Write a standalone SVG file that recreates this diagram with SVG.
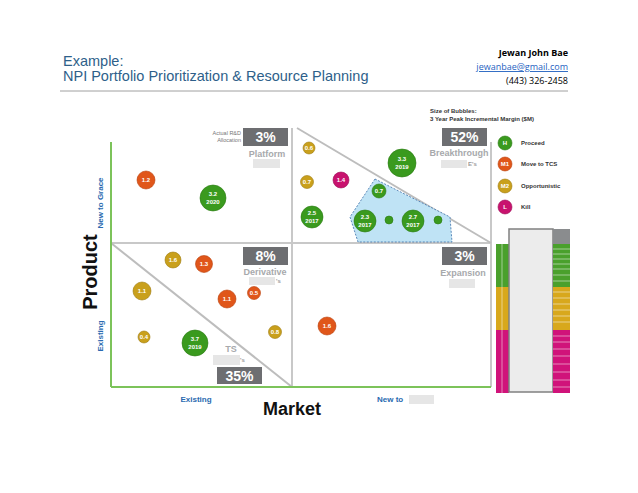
<svg xmlns="http://www.w3.org/2000/svg" width="638" height="493" viewBox="0 0 638 493">
<style>
text{font-family:"Liberation Sans",Arial,sans-serif}
.bt{fill:#fff;font-size:6px;font-weight:bold;text-anchor:middle}
.box{fill:#6d6e71}
.pct{fill:#fff;font-size:14px;font-weight:bold;text-anchor:middle}
.ql{fill:#a7a9ac;font-size:9px;font-weight:bold;text-anchor:middle}
.ph{fill:#e6e6e6}
.g{fill:#3a9a1e;stroke:#2a7a12;stroke-width:.6}
.o{fill:#e0561a;stroke:#b8400c;stroke-width:.6}
.y{fill:#c9a01c;stroke:#9d7a0e;stroke-width:.6}
.m{fill:#c8126e;stroke:#9a0d55;stroke-width:.6}
.ax{fill:#2a6ab0;font-size:8px;font-weight:bold}
.lg{fill:#333;font-size:6px;font-weight:bold}
</style>
<rect width="638" height="493" fill="#fff"/>
<g id="header">
<text x="63" y="66" font-size="14.5" fill="#2e5f8a">Example:</text>
<text x="63" y="81" font-size="14.5" fill="#2e5f8a">NPI Portfolio Prioritization &amp; Resource Planning</text>
<text x="568" y="56" font-size="9" font-weight="bold" text-anchor="end" fill="#000" style="font-family:'Open Sans',sans-serif">Jewan John Bae</text>
<text x="568" y="70" font-size="9" text-anchor="end" fill="#1f5fbf" text-decoration="underline" style="font-family:'Open Sans',sans-serif">jewanbae@gmail.com</text>
<text x="568" y="84" font-size="9" text-anchor="end" fill="#000" style="font-family:'Open Sans',sans-serif">(443) 326-2458</text>
<line x1="60" y1="91" x2="568" y2="91" stroke="#a0a0a0" stroke-width="1"/>
</g>
<g id="connectors" fill="none">
<line x1="292" y1="128" x2="292" y2="387" stroke="#c8c8c8" stroke-width="2"/>
<line x1="111" y1="243" x2="491" y2="243" stroke="#c8c8c8" stroke-width="2"/>
<line x1="491" y1="142" x2="491" y2="387" stroke="#c8c8c8" stroke-width="2"/>
<line x1="297" y1="128" x2="491" y2="243" stroke="#bdbdbd" stroke-width="2"/>
<line x1="111" y1="243" x2="292" y2="387" stroke="#bdbdbd" stroke-width="2"/>
<line x1="111" y1="142" x2="111" y2="387" stroke="#7cc35a" stroke-width="2"/>
<line x1="111" y1="387" x2="491" y2="387" stroke="#7cc35a" stroke-width="2"/>
<polygon points="375,179 350,217 358,242 452,242 450,217" fill="#bfe3f5" stroke="#3a6ea8" stroke-width="0.8" stroke-dasharray="2,1.5"/>
</g>
<g id="platform">
<text x="241" y="135" font-size="5.5" fill="#777" text-anchor="end">Actual R&amp;D</text>
<text x="241" y="142" font-size="5.5" fill="#777" text-anchor="end">Allocation</text>
<rect class="box" x="243" y="128" width="45" height="18"/><text class="pct" x="265.5" y="142">3%</text>
<text class="ql" x="267" y="157">Platform</text><rect class="ph" x="253" y="159" width="27" height="9"/>
</g>
<g id="breakthrough">
<rect class="box" x="442" y="128" width="45" height="18"/><text class="pct" x="464.5" y="142">52%</text>
<text class="ql" x="459" y="156">Breakthrough</text><rect class="ph" x="441" y="160" width="26" height="8"/>
<text x="468" y="166" font-size="6" fill="#999" font-weight="bold">E's</text>
</g>
<g id="derivative">
<rect class="box" x="243" y="247" width="45" height="18"/><text class="pct" x="265.5" y="261">8%</text>
<text class="ql" x="265" y="275">Derivative</text><rect class="ph" x="249" y="277" width="26" height="8"/>
<text x="276" y="283" font-size="6" fill="#999" font-weight="bold">'s</text>
</g>
<g id="expansion">
<rect class="box" x="442" y="247" width="45" height="18"/><text class="pct" x="464.5" y="261">3%</text>
<text class="ql" x="463" y="276">Expansion</text><rect class="ph" x="449" y="279" width="26" height="9"/>
</g>
<g id="ts">
<text class="ql" x="231" y="352">TS</text><rect class="ph" x="213" y="355" width="27" height="10"/>
<text x="240" y="362" font-size="6" fill="#999" font-weight="bold">'s</text>
<rect class="box" x="217" y="367" width="45" height="17"/><text class="pct" x="239.5" y="381">35%</text>
</g>
<g id="bubbles">
<circle class="o" cx="146" cy="180" r="9"/><text class="bt" x="146" y="182">1.2</text>
<circle class="g" cx="213" cy="198" r="13"/><text class="bt" x="213" y="196">3.2</text><text class="bt" x="213" y="204">2020</text>
<circle class="y" cx="309" cy="148" r="6"/><text class="bt" x="309" y="150">0.6</text>
<circle class="y" cx="307" cy="182" r="6.5"/><text class="bt" x="307" y="184">0.7</text>
<circle class="m" cx="341" cy="180" r="8"/><text class="bt" x="341" y="182">1.4</text>
<circle class="g" cx="402" cy="163" r="14"/><text class="bt" x="402" y="161">3.3</text><text class="bt" x="402" y="169">2019</text>
<circle class="g" cx="379" cy="191" r="7"/><text class="bt" x="379" y="193">0.7</text>
<circle class="g" cx="312" cy="217" r="11"/><text class="bt" x="312" y="215">2.5</text><text class="bt" x="312" y="223">2017</text>
<circle class="g" cx="365" cy="221" r="11"/><text class="bt" x="365" y="219">2.3</text><text class="bt" x="365" y="227">2017</text>
<circle class="g" cx="389" cy="220" r="4"/>
<circle class="g" cx="413" cy="221" r="11"/><text class="bt" x="413" y="219">2.7</text><text class="bt" x="413" y="227">2017</text>
<circle class="g" cx="438" cy="220" r="4"/>
<circle class="y" cx="173" cy="260" r="8"/><text class="bt" x="173" y="262">1.6</text>
<circle class="o" cx="204" cy="264" r="8.5"/><text class="bt" x="204" y="266">1.3</text>
<circle class="y" cx="142" cy="291" r="9"/><text class="bt" x="142" y="293">1.1</text>
<circle class="o" cx="227" cy="299" r="9"/><text class="bt" x="227" y="301">1.1</text>
<circle class="o" cx="254" cy="293" r="6.5"/><text class="bt" x="254" y="295">0.5</text>
<circle class="y" cx="144" cy="337" r="6"/><text class="bt" x="144" y="339">0.4</text>
<circle class="g" cx="195" cy="343" r="13"/><text class="bt" x="195" y="341">3.7</text><text class="bt" x="195" y="349">2019</text>
<circle class="y" cx="275" cy="332" r="6.5"/><text class="bt" x="275" y="334">0.8</text>
<circle class="o" cx="327" cy="326" r="9"/><text class="bt" x="327" y="328">1.6</text>
</g>
<g id="axes-labels">
<text transform="translate(97,272) rotate(-90)" font-size="20" font-weight="bold" text-anchor="middle" fill="#111">Product</text>
<text class="ax" transform="translate(103,203) rotate(-90)" text-anchor="middle">New to Grace</text>
<text class="ax" transform="translate(103,336) rotate(-90)" text-anchor="middle">Existing</text>
<text class="ax" x="196" y="402" text-anchor="middle">Existing</text>
<text class="ax" x="377" y="402">New to</text><rect class="ph" x="409" y="395" width="25" height="9"/>
<text x="292" y="415" font-size="18" font-weight="bold" text-anchor="middle" fill="#111">Market</text>
</g>
<g id="legend">
<text class="lg" x="430" y="113">Size of Bubbles:</text>
<text class="lg" x="430" y="121">3 Year Peak Incremental Margin ($M)</text>
<circle class="g" cx="505" cy="143" r="7"/><text class="bt" x="505" y="145">H</text><text class="lg" x="521" y="145">Proceed</text>
<circle class="o" cx="505" cy="164" r="7"/><text class="bt" x="505" y="166">M1</text><text class="lg" x="521" y="166">Move to TCS</text>
<circle class="y" cx="505" cy="186" r="7"/><text class="bt" x="505" y="188">M2</text><text class="lg" x="521" y="188">Opportunistic</text>
<circle class="m" cx="505" cy="207" r="7"/><text class="bt" x="505" y="209">L</text><text class="lg" x="521" y="209">Kill</text>
</g>
<g id="table">
<rect x="496" y="244" width="13" height="43" fill="#4aa02c"/>
<rect x="496" y="287" width="13" height="43" fill="#d8a81c"/>
<rect x="496" y="330" width="13" height="63" fill="#d0137a"/>
<line x1="502" y1="244" x2="502" y2="393" stroke="#fff" stroke-width="0.5"/>
<rect x="509" y="229" width="44" height="163" fill="#ececec" stroke="#808080" stroke-width="1.5"/>
<rect x="553" y="229" width="17" height="15" fill="#8a8c8e"/>
<rect x="553" y="244" width="17" height="43" fill="#4aa02c"/>
<rect x="553" y="287" width="17" height="43" fill="#d8a81c"/>
<rect x="553" y="330" width="17" height="63" fill="#d0137a"/>
<g stroke="#fff" stroke-width="0.5">
<line x1="553" y1="249" x2="570" y2="249"/><line x1="553" y1="254" x2="570" y2="254"/><line x1="553" y1="259" x2="570" y2="259"/><line x1="553" y1="264" x2="570" y2="264"/><line x1="553" y1="269" x2="570" y2="269"/><line x1="553" y1="275" x2="570" y2="275"/><line x1="553" y1="281" x2="570" y2="281"/>
<line x1="553" y1="292" x2="570" y2="292"/><line x1="553" y1="298" x2="570" y2="298"/><line x1="553" y1="304" x2="570" y2="304"/><line x1="553" y1="310" x2="570" y2="310"/><line x1="553" y1="316" x2="570" y2="316"/><line x1="553" y1="322" x2="570" y2="322"/>
<line x1="553" y1="336" x2="570" y2="336"/><line x1="553" y1="342" x2="570" y2="342"/><line x1="553" y1="349" x2="570" y2="349"/><line x1="553" y1="356" x2="570" y2="356"/><line x1="553" y1="364" x2="570" y2="364"/><line x1="553" y1="372" x2="570" y2="372"/><line x1="553" y1="380" x2="570" y2="380"/><line x1="553" y1="387" x2="570" y2="387"/>
</g>
</g>
</svg>
